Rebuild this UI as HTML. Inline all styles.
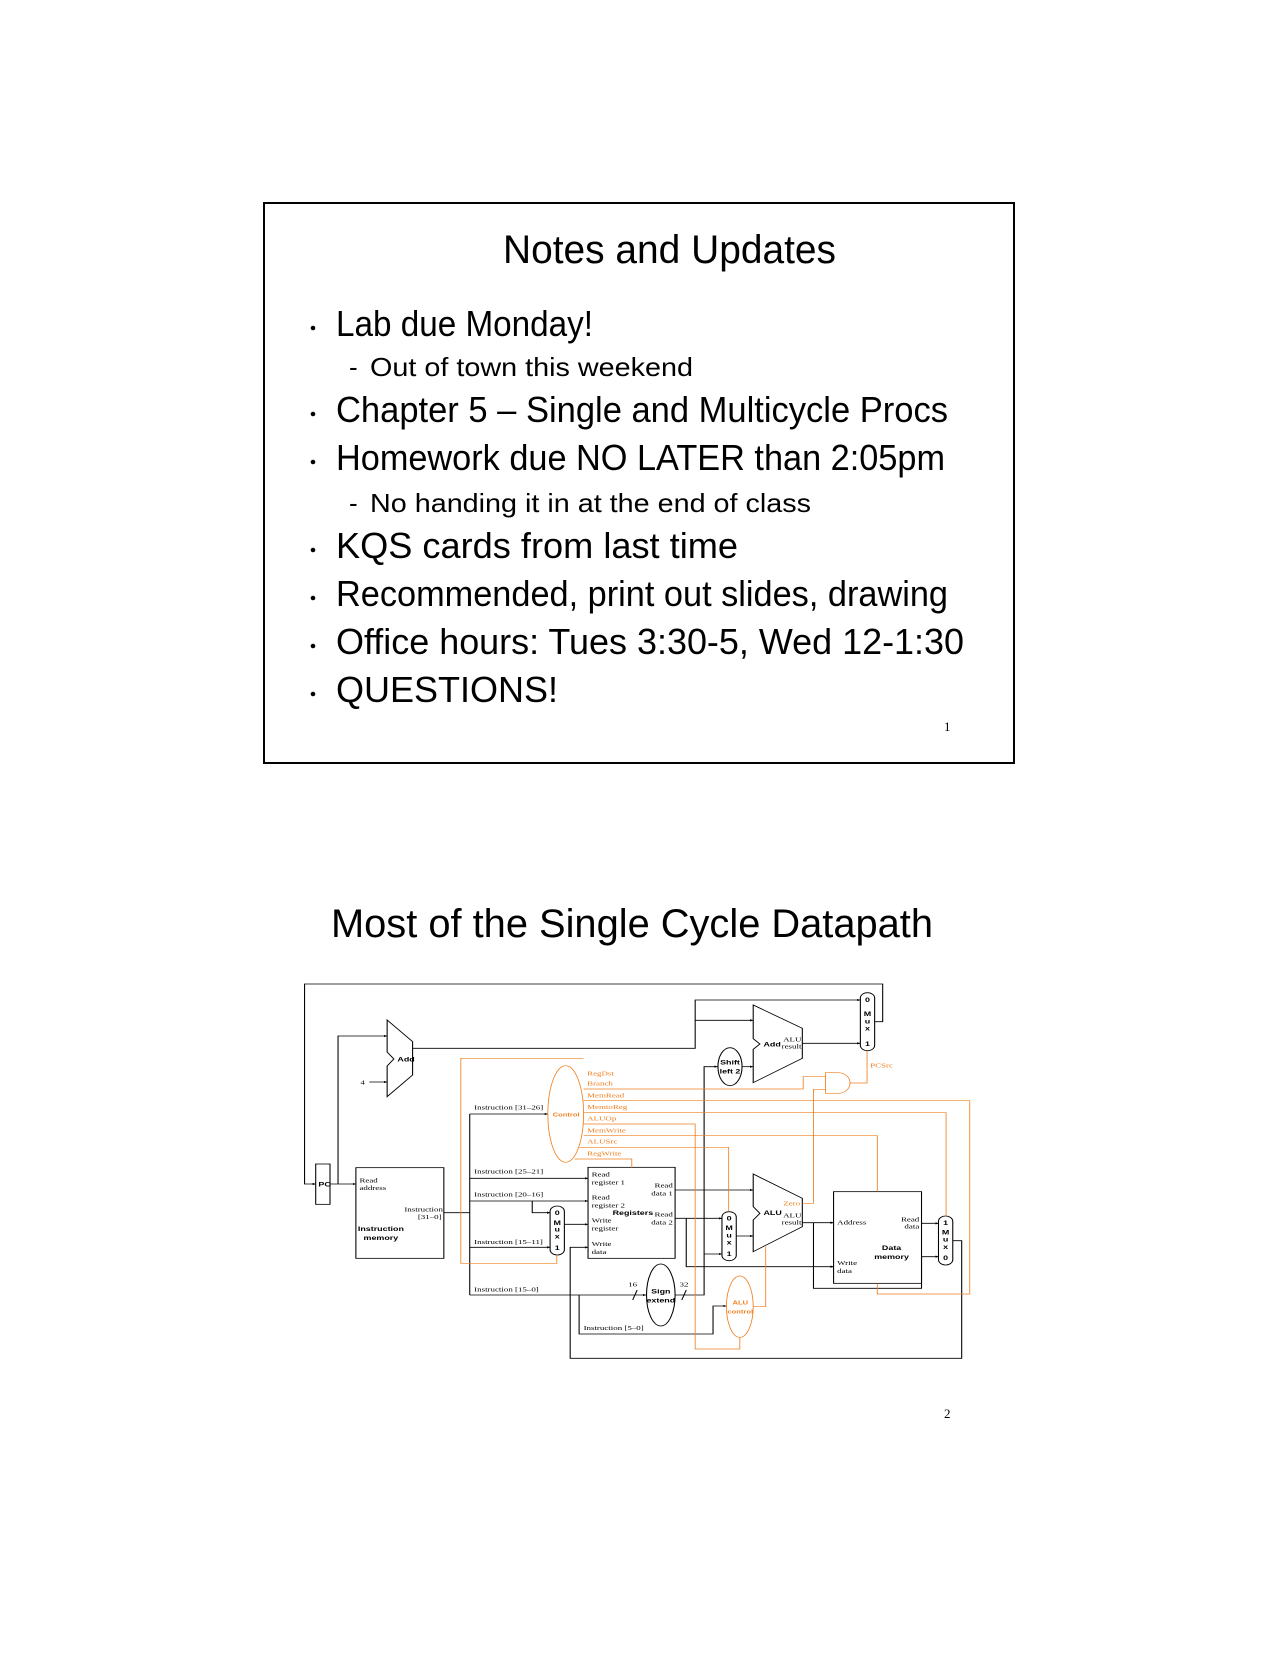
<!DOCTYPE html>
<html><head><meta charset="utf-8"><style>
html,body{margin:0;padding:0;background:#fff;}
svg{display:block;}
.t{font-family:"Liberation Sans",sans-serif;fill:#000;}
.s{font-family:"Liberation Serif",serif;font-size:20px;fill:#000;}
.b{font-family:"Liberation Sans",sans-serif;font-weight:bold;font-size:20px;fill:#000;}
.o{font-family:"Liberation Serif",serif;font-size:20px;fill:#f07f1f;}
.bk{fill:none;stroke:#000;stroke-width:2.4;vector-effect:non-scaling-stroke;}
.or{fill:none;stroke:#f07f1f;stroke-width:1.9;vector-effect:non-scaling-stroke;}
</style></head><body>
<svg width="1280" height="1656" viewBox="0 0 1280 1656" xmlns="http://www.w3.org/2000/svg">
<rect x="264" y="203" width="750" height="560" fill="none" stroke="#000" stroke-width="2"/>
<text class="t" x="503" y="263" font-size="40" textLength="333" lengthAdjust="spacingAndGlyphs">Notes and Updates</text>
<g fill="#000">
<circle cx="313" cy="328" r="2.3"/><circle cx="313" cy="414" r="2.3"/><circle cx="313" cy="462" r="2.3"/>
<circle cx="313" cy="550" r="2.3"/><circle cx="313" cy="598" r="2.3"/><circle cx="313" cy="646" r="2.3"/><circle cx="313" cy="694" r="2.3"/>
</g>
<g class="t" font-size="36">
<text x="336" y="336" textLength="257" lengthAdjust="spacingAndGlyphs">Lab due Monday!</text>
<text x="349" y="376" font-size="26">-</text>
<text x="370" y="376" font-size="26" textLength="323" lengthAdjust="spacingAndGlyphs">Out of town this weekend</text>
<text x="336" y="422" textLength="612" lengthAdjust="spacingAndGlyphs">Chapter 5 – Single and Multicycle Procs</text>
<text x="336" y="470" textLength="609" lengthAdjust="spacingAndGlyphs">Homework due NO LATER than 2:05pm</text>
<text x="349" y="512" font-size="26">-</text>
<text x="370" y="512" font-size="26" textLength="441" lengthAdjust="spacingAndGlyphs">No handing it in at the end of class</text>
<text x="336" y="558" textLength="402" lengthAdjust="spacingAndGlyphs">KQS cards from last time</text>
<text x="336" y="606" textLength="612" lengthAdjust="spacingAndGlyphs">Recommended, print out slides, drawing</text>
<text x="336" y="654" textLength="628" lengthAdjust="spacingAndGlyphs">Office hours: Tues 3:30-5, Wed 12-1:30</text>
<text x="336" y="702" textLength="222" lengthAdjust="spacingAndGlyphs">QUESTIONS!</text>
</g>
<text x="944" y="731" font-family="Liberation Serif,serif" font-size="13">1</text>
<text class="t" x="331" y="937" font-size="40" textLength="602" lengthAdjust="spacingAndGlyphs">Most of the Single Cycle Datapath</text>
<text x="944" y="1418" font-family="Liberation Serif,serif" font-size="13">2</text>

<svg x="280" y="960" width="700" height="420" viewBox="0 0 1568 1260" preserveAspectRatio="none">
<defs><marker id="a" markerWidth="7" markerHeight="7" refX="7" refY="3.5" orient="auto" markerUnits="userSpaceOnUse" viewBox="0 0 7 7"><path d="M0,0L7,3.5L0,7z" fill="#000"/></marker></defs>
<g class="bk">
<path d="M1332,185H1350V72H55V672H80" marker-end="url(#a)"/>
<rect x="80" y="612" width="32" height="121"/>
<path d="M112,672H170" marker-end="url(#a)"/>
<path d="M130,672V228H240" marker-end="url(#a)"/>
<path d="M200,366H240" marker-end="url(#a)"/>
<polygon points="240,180 297,245 297,345 240,410 240,318 255,297 240,276"/>
<path d="M297,265H930V120H1300" marker-end="url(#a)"/>
<path d="M930,181H1060" marker-end="url(#a)"/>
<rect x="170" y="623" width="197" height="272"/>
<path d="M367,758H425"/>
<path d="M425,462V1005"/>
<path d="M425,462H600" marker-end="url(#a)"/>
<path d="M425,655H690" marker-end="url(#a)"/>
<path d="M425,723H690" marker-end="url(#a)"/>
<path d="M565,723V758H605" marker-end="url(#a)"/>
<path d="M425,862H605" marker-end="url(#a)"/>
<path d="M425,1005H820" marker-end="url(#a)"/>
<rect x="605" y="738" width="32" height="147" rx="16"/>
<path d="M637,793H690" marker-end="url(#a)"/>
<rect x="690" y="622" width="195" height="273"/>
<path d="M885,690H1060" marker-end="url(#a)"/>
<path d="M885,775H990" marker-end="url(#a)"/>
<path d="M910,775V920H1240" marker-end="url(#a)"/>
<rect x="990" y="755" width="32" height="147" rx="16"/>
<path d="M1022,828H1060" marker-end="url(#a)"/>
<ellipse cx="853" cy="1005" rx="32" ry="93"/>
<path d="M790,1020L800,990M900,1020L910,990"/>
<path d="M885,1005H950V320H980" marker-end="url(#a)"/>
<path d="M950,882H990" marker-end="url(#a)"/>
<ellipse cx="1008" cy="320" rx="27" ry="57"/>
<path d="M1035,320H1060" marker-end="url(#a)"/>
<polygon points="1060,135 1170,205 1170,295 1060,368 1060,268 1075,252 1060,236"/>
<path d="M1170,250H1300" marker-end="url(#a)"/>
<rect x="1300" y="98" width="32" height="174" rx="16"/>
<polygon points="1060,642 1170,715 1170,800 1060,875 1060,780 1075,760 1060,740"/>
<path d="M1170,788H1240" marker-end="url(#a)"/>
<path d="M1195,788V985H1437V890H1475" marker-end="url(#a)"/>
<rect x="1240" y="695" width="197" height="275"/>
<path d="M1437,790H1475" marker-end="url(#a)"/>
<rect x="1475" y="768" width="32" height="147" rx="16"/>
<path d="M1507,842H1527V1195H650V862H690" marker-end="url(#a)"/>
<path d="M670,1005V1122H970V1038H1000" marker-end="url(#a)"/>
</g>
<g class="or">
<ellipse cx="640" cy="462" rx="40" ry="145"/>
<path d="M680,295H405V910H620V885"/>
<path d="M680,387H1172V350H1222"/>
<path d="M1222,338H1250A27,31 0 0 1 1250,400H1222Z"/>
<path d="M1277,369H1315V272"/>
<path d="M1170,730H1195V388H1222"/>
<path d="M680,422H1545V1002H1338V970"/>
<path d="M680,458H1492V768"/>
<path d="M680,492H930V1167H1030V1132"/>
<path d="M680,527H1338V695"/>
<path d="M670,562H1005V755"/>
<path d="M660,597H788V622"/>
<ellipse cx="1030" cy="1040" rx="30" ry="92"/>
<path d="M1060,1040H1088V860"/>
</g>
<text class="b" x="86" y="680">PC</text>
<text class="s" x="180" y="373">4</text>
<text class="b" x="263" y="304">Add</text>
<text class="s" x="178" y="667">Read</text><text class="s" x="178" y="690">address</text>
<text class="s" x="365" y="755" text-anchor="end">Instruction</text><text class="s" x="362" y="777" text-anchor="end">[31–0]</text>
<text class="b" x="226" y="813" text-anchor="middle">Instruction</text><text class="b" x="226" y="840" text-anchor="middle">memory</text>
<text class="s" x="435" y="448">Instruction [31–26]</text>
<text class="s" x="435" y="641">Instruction [25–21]</text>
<text class="s" x="435" y="710">Instruction [20–16]</text>
<text class="s" x="435" y="852">Instruction [15–11]</text>
<text class="s" x="435" y="994">Instruction [15–0]</text>
<text class="s" x="680" y="1110">Instruction [5–0]</text>
<g class="b" text-anchor="middle" font-size="18">
<text x="621" y="765">0</text><text x="621" y="795">M</text><text x="621" y="815">u</text><text x="621" y="835">x</text><text x="621" y="870">1</text>
<text x="1006" y="782">0</text><text x="1006" y="810">M</text><text x="1006" y="832">u</text><text x="1006" y="854">x</text><text x="1006" y="888">1</text>
<text x="1316" y="126">0</text><text x="1316" y="168">M</text><text x="1316" y="190">u</text><text x="1316" y="212">x</text><text x="1316" y="258">1</text>
<text x="1491" y="795">1</text><text x="1491" y="823">M</text><text x="1491" y="845">u</text><text x="1491" y="867">x</text><text x="1491" y="900">0</text>
</g>
<text class="s" x="698" y="650">Read</text><text class="s" x="698" y="674">register 1</text>
<text class="s" x="698" y="719">Read</text><text class="s" x="698" y="743">register 2</text>
<text class="s" x="698" y="788">Write</text><text class="s" x="698" y="812">register</text>
<text class="s" x="698" y="858">Write</text><text class="s" x="698" y="882">data</text>
<text class="s" x="880" y="683" text-anchor="end">Read</text><text class="s" x="880" y="707" text-anchor="end">data 1</text>
<text class="s" x="880" y="770" text-anchor="end">Read</text><text class="s" x="880" y="794" text-anchor="end">data 2</text>
<text class="b" x="745" y="765">Registers</text>
<text class="s" x="780" y="980">16</text><text class="s" x="895" y="980">32</text>
<text class="b" x="853" y="1000" text-anchor="middle" font-size="18">Sign</text><text class="b" x="853" y="1027" text-anchor="middle" font-size="18">extend</text>
<text class="b" x="1008" y="313" text-anchor="middle" font-size="18">Shift</text><text class="b" x="1008" y="340" text-anchor="middle" font-size="18">left 2</text>
<text class="b" x="1083" y="259">Add</text>
<text class="s" x="1168" y="245" text-anchor="end">ALU</text><text class="s" x="1168" y="266" text-anchor="end">result</text>
<text class="b" x="1083" y="765">ALU</text>
<text class="s" x="1168" y="773" text-anchor="end">ALU</text><text class="s" x="1168" y="794" text-anchor="end">result</text>
<text class="o" x="1165" y="736" text-anchor="end">Zero</text>
<text class="s" x="1248" y="794">Address</text>
<text class="s" x="1432" y="784" text-anchor="end">Read</text><text class="s" x="1432" y="806" text-anchor="end">data</text>
<text class="b" x="1370" y="870" text-anchor="middle">Data</text><text class="b" x="1370" y="897" text-anchor="middle">memory</text>
<text class="s" x="1248" y="915">Write</text><text class="s" x="1248" y="939">data</text>
<g class="o">
<text x="688" y="347">RegDst</text><text x="688" y="377">Branch</text><text x="688" y="412">MemRead</text><text x="688" y="447">MemtoReg</text>
<text x="688" y="482">ALUOp</text><text x="688" y="517">MemWrite</text><text x="688" y="551">ALUSrc</text><text x="688" y="587">RegWrite</text>
<text x="1322" y="322">PCSrc</text>
</g>
<text x="641" y="470" text-anchor="middle" font-family="Liberation Sans,sans-serif" font-weight="bold" font-size="17" fill="#f07f1f">Control</text>
<text x="1031" y="1033" text-anchor="middle" font-family="Liberation Sans,sans-serif" font-weight="bold" font-size="17" fill="#f07f1f">ALU</text>
<text x="1031" y="1060" text-anchor="middle" font-family="Liberation Sans,sans-serif" font-weight="bold" font-size="17" fill="#f07f1f">control</text>
</svg>
</svg>
</body></html>
